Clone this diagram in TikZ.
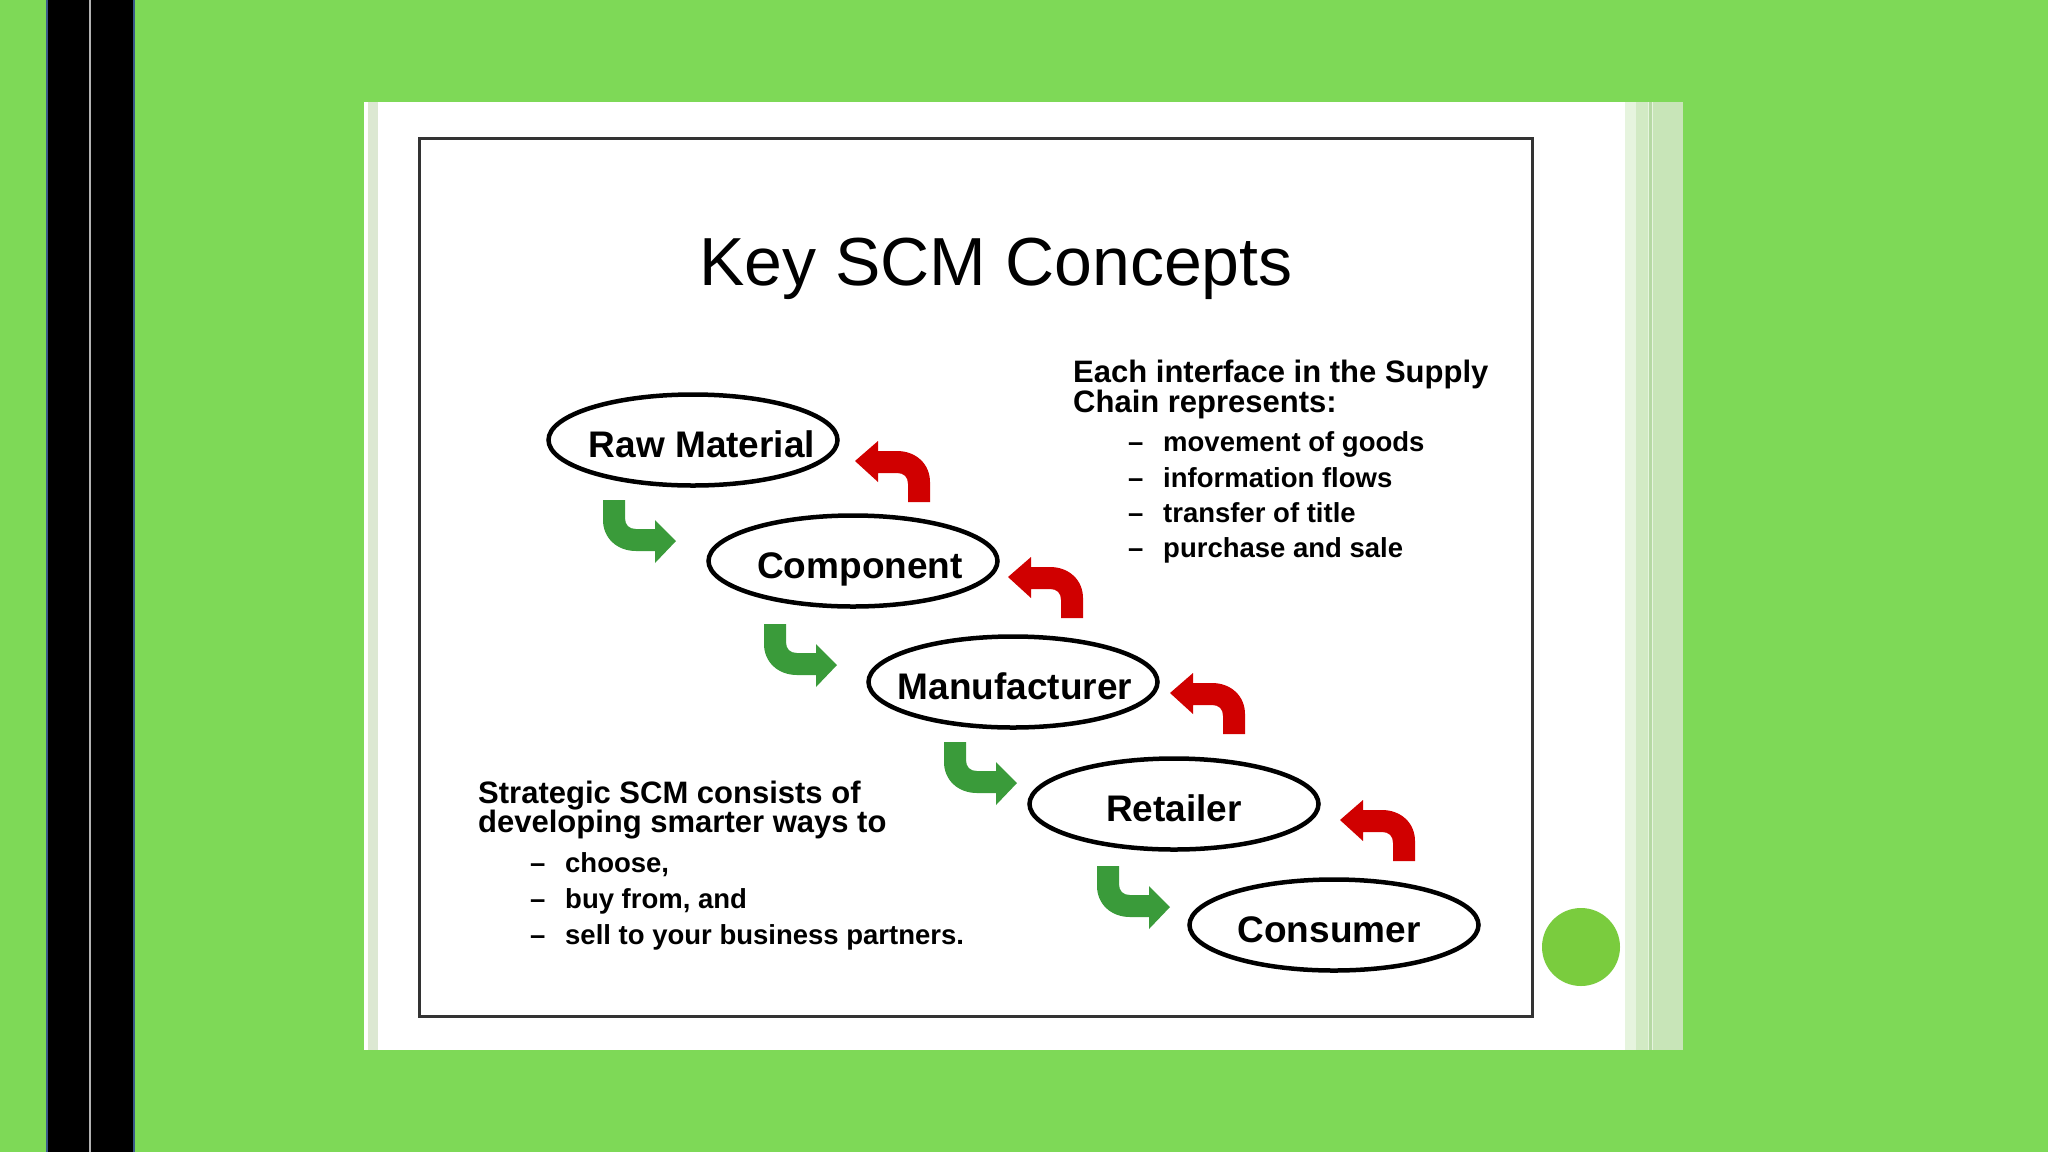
\documentclass[tikz,border=0pt]{standalone}
\usepackage{fontspec}
\setmainfont{Liberation Sans}
\usetikzlibrary{shapes.geometric}
\definecolor{bggreen}{HTML}{7ED957}
\definecolor{arrowgreen}{HTML}{3A9B3A}
\definecolor{arrowred}{HTML}{D00000}
\definecolor{dotgreen}{HTML}{7ACC3E}
\definecolor{barblue}{HTML}{3B5A8A}
\definecolor{stripA}{HTML}{E6F4DE}
\definecolor{stripB}{HTML}{D2EAC4}
\definecolor{stripC}{HTML}{B6D9A4}
\definecolor{stripD}{HTML}{C8E5B8}
\definecolor{stripL}{HTML}{DCE8D2}
\tikzset{
  oval/.style={draw=black, line width=4.5pt, ellipse, minimum width=289pt, minimum height=91pt, inner sep=0pt, fill=white},
  ovaltext/.style={anchor=base, inner sep=0pt, font=\fontsize{37}{40}\selectfont\bfseries},
  hdr/.style={anchor=base west, inner sep=0pt, font=\fontsize{31}{33}\selectfont\bfseries},
  bul/.style={anchor=base west, inner sep=0pt, font=\fontsize{27.5}{30}\selectfont\bfseries},
  garrow/.pic={\fill[arrowgreen] (0,0) -- (22,0) -- (22,18) .. controls (22,25) and (26,29) .. (33,29) -- (52,29) -- (52,20) -- (73,41) -- (52,63) -- (52,51) -- (33,51) .. controls (14,51) and (0,38) .. (0,20) -- cycle;},
  rarrow/.pic={\fill[arrowred] (0,0) -- (22,0) -- (22,18) .. controls (22,25) and (26,29) .. (33,29) -- (52,29) -- (52,20) -- (75,41) -- (52,61) -- (52,51) -- (33,51) .. controls (14,51) and (0,38) .. (0,20) -- cycle;}
}
\begin{document}
\begin{tikzpicture}[x=1pt,y=-1pt]
\useasboundingbox (0,0) rectangle (2048,1152);
% background
\fill[bggreen] (0,0) rectangle (2048,1152);
% black bars
\fill[barblue] (46,0) rectangle (135,1152);
\fill[black] (48,0) rectangle (133,1152);
\fill[gray!60] (89,0) rectangle (91,1152);
% card
\fill[white] (364,102) rectangle (1683,1050);
\fill[stripL] (368,102) rectangle (378,1050);
\fill[stripA] (1625,102) rectangle (1683,1050);
\fill[stripB] (1636,102) rectangle (1648,1050);
\fill[stripC] (1649,102) rectangle (1652,1050);
\fill[stripD] (1653,102) rectangle (1683,1050);
% inner frame
\draw[line width=3pt, draw=black!80] (419,138) rectangle (1532,1016);
% dot
\fill[dotgreen] (1581,947) circle[radius=39];
% title
\node[anchor=base, inner sep=0pt, font=\fontsize{68}{70}\selectfont] (title) at (996,285) {Key SCM Concepts};
% ovals
\node[oval] (raw) at (693,440) {};
\node[oval] (comp) at (853,561) {};
\node[oval] (manu) at (1013,682) {};
\node[oval] (ret) at (1174,804) {};
\node[oval] (cons) at (1334,925) {};
\node[ovaltext] (rawt) at ([xshift=9pt,yshift=-17pt]raw.center) {Raw Material};
\node[ovaltext] (compt) at ([xshift=7pt,yshift=-17pt]comp.center) {Component};
\node[ovaltext] (manut) at ([xshift=2pt,yshift=-17pt]manu.center) {Manufacturer};
\node[ovaltext] (rett) at ([yshift=-17pt]ret.center) {Retailer};
\node[ovaltext] (const) at ([xshift=-5pt,yshift=-17pt]cons.center) {Consumer};
% green arrows
\pic at (603,500) {garrow};
\pic at (764,624) {garrow};
\pic at (944,742) {garrow};
\pic at (1097,866) {garrow};
% red arrows
\pic[rotate=180] at (930,502) {rarrow};
\pic[rotate=180] at (1083,618) {rarrow};
\pic[rotate=180] at (1245,734) {rarrow};
\pic[rotate=180] at (1415,861) {rarrow};
% right text
\node[hdr] (r1) at (1073,382) {Each interface in the Supply};
\node[hdr] (r2) at (1073,412) {Chain represents:};
\node[bul] (rd1) at (1128,451) {–};
\node[bul] (rt1) at (1163,451) {movement of goods};
\node[bul] (rd2) at (1128,487) {–};
\node[bul] (rt2) at (1163,487) {information flows};
\node[bul] (rd3) at (1128,522) {–};
\node[bul] (rt3) at (1163,522) {transfer of title};
\node[bul] (rd4) at (1128,557) {–};
\node[bul] (rt4) at (1163,557) {purchase and sale};
% left text
\node[hdr] (l1) at (478,803) {Strategic SCM consists of};
\node[hdr] (l2) at (478,832) {developing smarter ways to};
\node[bul] (ld1) at (530,872) {–};
\node[bul] (lt1) at (565,872) {choose,};
\node[bul] (ld2) at (530,908) {–};
\node[bul] (lt2) at (565,908) {buy from, and};
\node[bul] (ld3) at (530,944) {–};
\node[bul] (lt3) at (565,944) {sell to your business partners.};
\end{tikzpicture}
\end{document}
